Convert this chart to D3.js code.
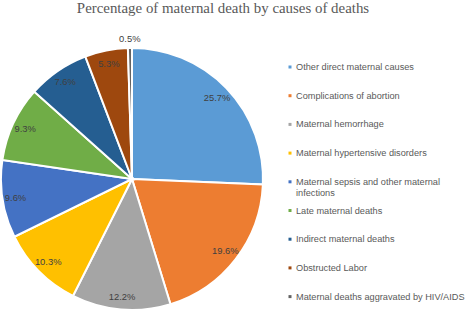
<!DOCTYPE html>
<html>
<head>
<meta charset="UTF-8">
<script src="https://d3js.org/d3.v7.min.js"></script>
<style>
  body { margin: 0; background: #fff; }
</style>
</head>
<body>
<div id="chart"></div>
<script>
// data
const causes = [
    "Other direct maternal causes",
    "Complications of abortion",
    "Maternal hemorrhage",
    "Maternal hypertensive disorders",
    "Maternal sepsis and other maternal infections",
    "Late maternal deaths",
    "Indirect maternal deaths",
    "Obstructed Labor",
    "Maternal deaths aggravated by HIV/AIDS"
];
const percents = [25.7, 19.6, 12.2, 10.3, 9.6, 9.3, 7.6, 5.3, 0.5];
const colors = ["#5B9BD5", "#ED7D31", "#A5A5A5", "#FFC000", "#4472C4", "#70AD47", "#255E91", "#9E480E", "#636363"];

const W = 471, H = 312;
const svg = d3.select("#chart").append("svg")
    .attr("width", W)
    .attr("height", H);

// title
svg.append("text")
    .attr("x", 223)
    .attr("y", 13)
    .attr("text-anchor", "middle")
    .attr("font-family", "Liberation Serif, Times New Roman, serif")
    .attr("font-size", "14.9px")
    .attr("fill", "#595959")
    .text("Percentage of maternal death by causes of deaths");

// pie
const cx = 132, cy = 179, R = 131;
const items = causes.map((c, i) => ({ name: c, value: percents[i], color: colors[i] }));
const pie = d3.pie().sort(null).value(d => d.value);
const arcs = pie(items);
const arc = d3.arc().innerRadius(0).outerRadius(R);
const labelArc = d3.arc().innerRadius(R * 0.9).outerRadius(R * 0.9);
const outArc = d3.arc().innerRadius(R + 9).outerRadius(R + 9);

const g = svg.append("g").attr("transform", `translate(${cx},${cy})`);

g.selectAll("path")
    .data(arcs)
    .enter()
    .append("path")
    .attr("d", arc)
    .attr("fill", d => d.data.color)
    .attr("stroke", "#fff")
    .attr("stroke-width", 2);

g.selectAll("text")
    .data(arcs)
    .enter()
    .append("text")
    .attr("transform", d => `translate(${(d.data.value < 1 ? outArc : labelArc).centroid(d)})`)
    .attr("text-anchor", "middle")
    .attr("dy", "0.35em")
    .attr("font-family", "Liberation Sans, Arial, sans-serif")
    .attr("font-size", "9.4px")
    .attr("fill", "#404040")
    .text(d => d.data.value.toFixed(1) + "%");

// legend
const legend = svg.append("g").attr("transform", "translate(290,67)");
const rowH = 28.7;
items.forEach((d, i) => {
    const row = legend.append("g").attr("transform", `translate(0,${i * rowH})`);
    row.append("rect")
        .attr("x", -1.5)
        .attr("y", -1.5)
        .attr("width", 3)
        .attr("height", 3)
        .attr("fill", d.color);
    const t = row.append("text")
        .attr("x", 6)
        .attr("y", 3)
        .attr("font-family", "Liberation Sans, Arial, sans-serif")
        .attr("font-size", "9.2px")
        .attr("fill", "#595959");
    if (d.name.length > 40) {
        t.append("tspan").attr("x", 6).text("Maternal sepsis and other maternal");
        t.append("tspan").attr("x", 6).attr("dy", 11).text("infections");
    } else {
        t.text(d.name);
    }
});
</script>
</body>
</html>
